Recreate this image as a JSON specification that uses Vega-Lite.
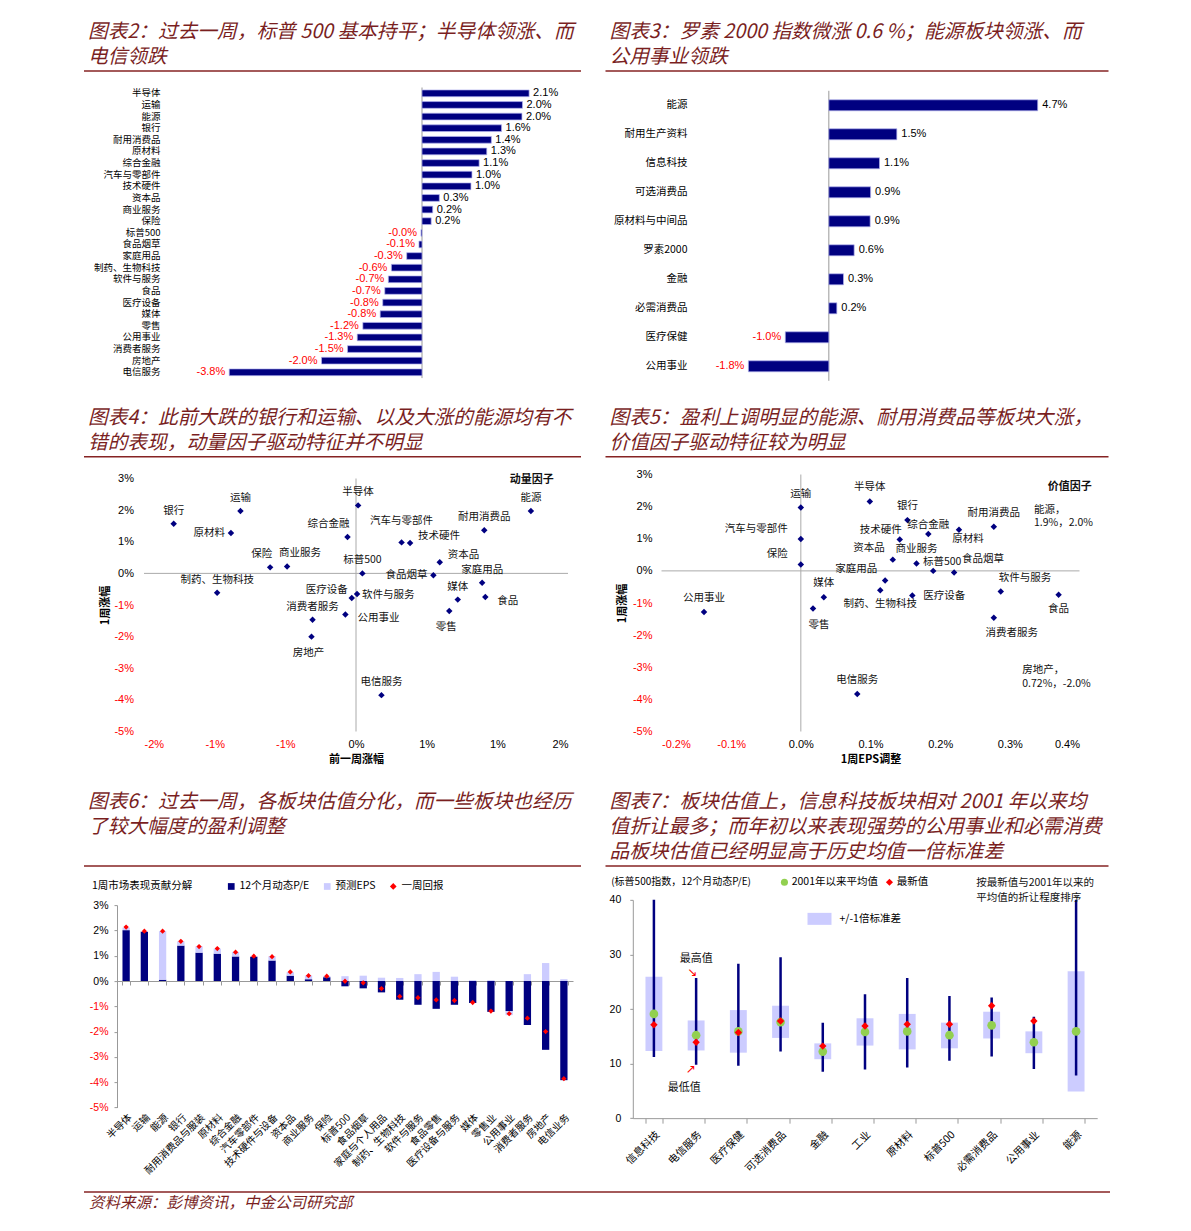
{
"$schema": "https://vega.github.io/schema/vega-lite/v6.json",
"background": "white",
"padding": {"left": 83, "top": 21, "right": 4, "bottom": 4},
"config": {
  "view": {"stroke": null},
  "font": "Noto Sans CJK SC",
  "axis": {"grid": false, "labelOverlap": false, "labelFont": "Liberation Sans", "labelFontSize": 10.5, "labelColor": "#000", "domainColor": "#999", "tickColor": "#999", "titleFont": "Noto Sans CJK SC", "titleColor": "#000"},
  "legend": {"padding": 0, "labelFont": "Noto Sans CJK SC", "labelFontSize": 10.5, "labelColor": "#000", "titleFont": "Noto Sans CJK SC", "titleFontWeight": "normal", "titleColor": "#000", "titleFontSize": 10.5},
  "text": {"font": "Noto Sans CJK SC", "fontSize": 10.5, "color": "#111"},
  "title": {"anchor": "start", "frame": "group", "fontSize": 19.7, "fontStyle": "italic", "fontWeight": "normal", "color": "#7a1f1f", "lineHeight": 25, "offset": 3.5, "dx": 4, "font": "Noto Sans CJK SC"}
},
"datasets": {
  "p2": [
    {"n":"半导体","v":0.021},{"n":"运输","v":0.0197},{"n":"能源","v":0.0196},{"n":"银行","v":0.0156},
    {"n":"耐用消费品","v":0.0136},{"n":"原材料","v":0.0127},{"n":"综合金融","v":0.0112},{"n":"汽车与零部件","v":0.0098},
    {"n":"技术硬件","v":0.0096},{"n":"资本品","v":0.0034},{"n":"商业服务","v":0.0021},{"n":"保险","v":0.0018},
    {"n":"标普500","v":-0.0002},{"n":"食品烟草","v":-0.0006},{"n":"家庭用品","v":-0.003},{"n":"制药、生物科技","v":-0.006},
    {"n":"软件与服务","v":-0.0066},{"n":"食品","v":-0.0073},{"n":"医疗设备","v":-0.0077},{"n":"媒体","v":-0.0082},
    {"n":"零售","v":-0.0116},{"n":"公用事业","v":-0.0127},{"n":"消费者服务","v":-0.0146},{"n":"房地产","v":-0.0197},{"n":"电信服务","v":-0.0378}
  ],
  "p3": [
    {"n":"能源","v":0.047},{"n":"耐用生产资料","v":0.0153},{"n":"信息科技","v":0.0114},{"n":"可选消费品","v":0.0094},
    {"n":"原材料与中间品","v":0.0093},{"n":"罗素2000","v":0.0057},{"n":"金融","v":0.0033},{"n":"必需消费品","v":0.0018},
    {"n":"医疗保健","v":-0.0098},{"n":"公用事业","v":-0.0181}
  ],
  "p4": [
    {"n":"银行","x":-0.0172,"y":0.0157},{"n":"运输","x":-0.0109,"y":0.0197},{"n":"原材料","x":-0.0118,"y":0.0128},
    {"n":"保险","x":-0.0081,"y":0.0019},{"n":"商业服务","x":-0.0065,"y":0.0022},{"n":"制药、生物科技","x":-0.0131,"y":-0.0061},
    {"n":"半导体","x":0.0002,"y":0.0215},{"n":"综合金融","x":-0.0008,"y":0.0115},{"n":"标普500","x":0.0006,"y":0.0},
    {"n":"医疗设备","x":-0.0004,"y":-0.0078},{"n":"软件与服务","x":0.0001,"y":-0.0065},{"n":"消费者服务","x":-0.0041,"y":-0.0147},
    {"n":"公用事业","x":-0.001,"y":-0.013},{"n":"房地产","x":-0.0042,"y":-0.02},{"n":"电信服务","x":0.0024,"y":-0.0385},
    {"n":"汽车与零部件","x":0.0043,"y":0.0098},{"n":"技术硬件","x":0.0051,"y":0.0096},{"n":"资本品","x":0.0079,"y":0.0035},
    {"n":"食品烟草","x":0.0073,"y":-0.0006},{"n":"家庭用品","x":0.0119,"y":-0.003},{"n":"媒体","x":0.0096,"y":-0.0083},
    {"n":"食品","x":0.0122,"y":-0.0075},{"n":"零售","x":0.0088,"y":-0.0119},{"n":"耐用消费品","x":0.0121,"y":0.0136},
    {"n":"能源","x":0.0165,"y":0.0197}
  ],
  "p5": [
    {"n":"运输","x":0.0,"y":0.0197},{"n":"汽车与零部件","x":0.0,"y":0.0099},{"n":"保险","x":0.0,"y":0.002},
    {"n":"公用事业","x":-0.00139,"y":-0.0128},{"n":"媒体","x":0.00033,"y":-0.0082},{"n":"零售","x":0.000175,"y":-0.0117},
    {"n":"电信服务","x":0.00081,"y":-0.0383},{"n":"半导体","x":0.00099,"y":0.0216},{"n":"银行","x":0.00153,"y":0.0158},
    {"n":"综合金融","x":0.00183,"y":0.0115},{"n":"技术硬件","x":0.00142,"y":0.0098},{"n":"原材料","x":0.00227,"y":0.0128},
    {"n":"耐用消费品","x":0.00277,"y":0.0137},{"n":"资本品","x":0.00132,"y":0.0035},{"n":"商业服务","x":0.00166,"y":0.0023},
    {"n":"标普500","x":0.0019,"y":0.0},{"n":"食品烟草","x":0.0022,"y":-0.0005},{"n":"家庭用品","x":0.00121,"y":-0.003},
    {"n":"制药、生物科技","x":0.00114,"y":-0.006},{"n":"医疗设备","x":0.0016,"y":-0.0077},{"n":"软件与服务","x":0.00287,"y":-0.0064},
    {"n":"食品","x":0.0037,"y":-0.0074},{"n":"消费者服务","x":0.00277,"y":-0.0146},{"n":"能源","x":0.019,"y":0.02},{"n":"房地产","x":0.0072,"y":-0.02}
  ],
  "p6": [
    {"c":"半导体","pe":0.0201,"eps":0.001,"ret":0.0213},{"c":"运输","pe":0.0195,"eps":0.0003,"ret":0.0197},
    {"c":"能源","pe":0.0005,"eps":0.0192,"ret":0.0197},{"c":"银行","pe":0.014,"eps":0.0017,"ret":0.0157},
    {"c":"耐用消费品与服装","pe":0.0112,"eps":0.0025,"ret":0.0136},{"c":"原材料","pe":0.0108,"eps":0.002,"ret":0.0128},
    {"c":"综合金融","pe":0.0097,"eps":0.0018,"ret":0.0114},{"c":"汽车零部件","pe":0.0096,"eps":0.0002,"ret":0.0098},
    {"c":"技术硬件与设备","pe":0.0081,"eps":0.0017,"ret":0.0096},{"c":"资本品","pe":0.0021,"eps":0.0014,"ret":0.0036},
    {"c":"商业服务","pe":0.0007,"eps":0.0015,"ret":0.0021},{"c":"保险","pe":0.0015,"eps":0.0005,"ret":0.0019},
    {"c":"标普500","pe":-0.0021,"eps":0.0019,"ret":-0.0001},{"c":"食品烟草","pe":-0.0029,"eps":0.0021,"ret":-0.0007},
    {"c":"家庭与个人用品","pe":-0.0045,"eps":0.0013,"ret":-0.003},{"c":"制药、生物科技","pe":-0.0074,"eps":0.0012,"ret":-0.0061},
    {"c":"软件与服务","pe":-0.0094,"eps":0.0027,"ret":-0.0066},{"c":"食品零售","pe":-0.011,"eps":0.0036,"ret":-0.0075},
    {"c":"医疗设备与服务","pe":-0.0094,"eps":0.0017,"ret":-0.0077},{"c":"媒体","pe":-0.0087,"eps":0.0003,"ret":-0.0085},
    {"c":"零售业","pe":-0.0122,"eps":0.0003,"ret":-0.0119},{"c":"公用事业","pe":-0.0119,"eps":-0.0016,"ret":-0.0129},
    {"c":"消费者服务","pe":-0.0174,"eps":0.0027,"ret":-0.0147},{"c":"房地产","pe":-0.0272,"eps":0.0071,"ret":-0.02},
    {"c":"电信业务","pe":-0.0392,"eps":0.0007,"ret":-0.0386}
  ],
  "p7": [
    {"s":"信息科技","lo":12.3,"hi":25.9,"mn":11.2,"mx":45,"avg":19.1,"now":17.1},
    {"s":"电信服务","lo":12.4,"hi":17.9,"mn":9.8,"mx":25.7,"avg":15.2,"now":13.9},
    {"s":"医疗保健","lo":12.0,"hi":19.8,"mn":9.6,"mx":28.3,"avg":15.9,"now":15.7},
    {"s":"可选消费品","lo":14.7,"hi":20.6,"mn":12.2,"mx":29.5,"avg":17.6,"now":17.8},
    {"s":"金融","lo":10.8,"hi":13.7,"mn":8.5,"mx":17.5,"avg":12.2,"now":13.2},
    {"s":"工业","lo":13.3,"hi":18.3,"mn":8.9,"mx":22.7,"avg":15.8,"now":16.9},
    {"s":"原材料","lo":12.6,"hi":19.1,"mn":9.3,"mx":25.7,"avg":15.9,"now":17.2},
    {"s":"标普500","lo":12.8,"hi":17.5,"mn":10.5,"mx":22.4,"avg":15.2,"now":17.2},
    {"s":"必需消费品","lo":14.6,"hi":19.5,"mn":11.3,"mx":22.1,"avg":17.0,"now":20.6},
    {"s":"公用事业","lo":11.9,"hi":15.9,"mn":9.0,"mx":18.6,"avg":13.9,"now":17.8},
    {"s":"能源","lo":4.9,"hi":26.9,"mn":7.8,"mx":45,"avg":15.9,"now":null}
  ]
},
"spacing": 24.8,
"resolve": {"scale": {"color": "independent", "fill": "independent", "shape": "independent"}},
"vconcat": [
 {"hconcat": [
   {"spacing": 14.5, "vconcat": [
     {"width": 497, "height": 1, "data": {"values": [{}]},
      "mark": {"type": "rule", "color": "#862323", "strokeWidth": 1.5},
      "encoding": {"y": {"datum": 0, "type": "quantitative", "scale": {"domain": [0, 1]}, "axis": null}},
      "title": {"text": ["图表2：过去一周，标普 500 基本持平；半导体领涨、而", "电信领跌"]}},
     {"width": 497, "height": 290.6, "data": {"name": "p2"},
      "layer": [
        {"data": {"values": [{}]}, "mark": {"type": "rule", "color": "#999"},
         "encoding": {"x": {"datum": 0, "type": "quantitative", "scale": {"domain": [-0.05, 0.03], "range": [83, 491]}, "axis": null}}},
        {"mark": {"type": "bar", "color": "#000080", "stroke": "#b3b3ee", "strokeWidth": 0.7},
         "encoding": {
           "y": {"field": "n", "type": "nominal", "sort": null, "scale": {"paddingInner": 0.42, "paddingOuter": 0.21},
                 "axis": {"title": null, "domain": false, "ticks": false, "offset": -83, "labelPadding": 7, "labelFont": "Noto Sans CJK SC", "labelFontSize": 9.5, "labelOverlap": false}},
           "x": {"field": "v", "type": "quantitative", "scale": {"domain": [-0.05, 0.03], "range": [83, 491]}, "axis": null}}},
        {"transform": [{"filter": "datum.v >= 0"}],
         "mark": {"type": "text", "align": "left", "dx": 4, "font": "Liberation Sans", "fontSize": 11, "color": "#000"},
         "encoding": {"y": {"field": "n", "type": "nominal", "sort": null},
                      "x": {"field": "v", "type": "quantitative", "scale": {"domain": [-0.05, 0.03], "range": [83, 491]}, "axis": null},
                      "text": {"field": "v", "format": ".1%"}}},
        {"transform": [{"filter": "datum.v < 0"}, {"calculate": "'-' + format(abs(datum.v), '.1%')", "as": "lab"}],
         "mark": {"type": "text", "align": "right", "dx": -4, "font": "Liberation Sans", "fontSize": 11, "color": "#ff0000"},
         "encoding": {"y": {"field": "n", "type": "nominal", "sort": null},
                      "x": {"field": "v", "type": "quantitative", "scale": {"domain": [-0.05, 0.03], "range": [83, 491]}, "axis": null},
                      "text": {"field": "lab"}}}
      ]}
   ]},
   {"spacing": 17.8, "vconcat": [
     {"width": 503, "height": 1, "data": {"values": [{}]},
      "mark": {"type": "rule", "color": "#862323", "strokeWidth": 1.5},
      "encoding": {"y": {"datum": 0, "type": "quantitative", "scale": {"domain": [0, 1]}, "axis": null}},
      "title": {"text": ["图表3：罗素 2000 指数微涨 0.6 %；能源板块领涨、而", "公用事业领跌"]}},
     {"width": 503, "height": 290, "data": {"name": "p3"},
      "layer": [
        {"data": {"values": [{}]}, "mark": {"type": "rule", "color": "#999"},
         "encoding": {"x": {"datum": 0, "type": "quantitative", "scale": {"domain": [-0.03, 0.06], "range": [90, 490]}, "axis": null}}},
        {"mark": {"type": "bar", "color": "#000080", "stroke": "#b3b3ee", "strokeWidth": 0.7},
         "encoding": {
           "y": {"field": "n", "type": "nominal", "sort": null, "scale": {"paddingInner": 0.62, "paddingOuter": 0.31},
                 "axis": {"title": null, "domain": false, "ticks": false, "offset": -90, "labelPadding": 8.5, "labelFont": "Noto Sans CJK SC", "labelFontSize": 10.5, "labelOverlap": false}},
           "x": {"field": "v", "type": "quantitative", "scale": {"domain": [-0.03, 0.06], "range": [90, 490]}, "axis": null}}},
        {"transform": [{"filter": "datum.v >= 0"}],
         "mark": {"type": "text", "align": "left", "dx": 4.5, "font": "Liberation Sans", "fontSize": 11, "color": "#000"},
         "encoding": {"y": {"field": "n", "type": "nominal", "sort": null},
                      "x": {"field": "v", "type": "quantitative", "scale": {"domain": [-0.03, 0.06], "range": [90, 490]}, "axis": null},
                      "text": {"field": "v", "format": ".1%"}}},
        {"transform": [{"filter": "datum.v < 0"}, {"calculate": "'-' + format(abs(datum.v), '.1%')", "as": "lab"}],
         "mark": {"type": "text", "align": "right", "dx": -4, "font": "Liberation Sans", "fontSize": 11, "color": "#ff0000"},
         "encoding": {"y": {"field": "n", "type": "nominal", "sort": null},
                      "x": {"field": "v", "type": "quantitative", "scale": {"domain": [-0.03, 0.06], "range": [90, 490]}, "axis": null},
                      "text": {"field": "lab"}}}
      ]}
   ]}
 ], "spacing": 22.5},
 {"spacing": 26.3, "resolve": {"scale": {"color": "independent", "fill": "independent", "shape": "independent"}}, "vconcat": [
  {"hconcat": [
   {"spacing": 14.7, "vconcat": [
     {"width": 497, "height": 1, "data": {"values": [{}]},
      "mark": {"type": "rule", "color": "#862323", "strokeWidth": 1.5},
      "encoding": {"y": {"datum": 0, "type": "quantitative", "scale": {"domain": [0, 1]}, "axis": null}},
      "title": {"text": ["图表4：此前大跌的银行和运输、以及大涨的能源均有不", "错的表现，动量因子驱动特征并不明显"]}},
     {"width": 497, "height": 253,
      "layer": [
        {"data": {"values": [{}]}, "mark": {"type": "rule", "color": "#aaa"},
         "encoding": {"x": {"datum": 0, "type": "quantitative", "scale": {"domain": [-0.02, 0.02], "range": [60, 484]}}}},
        {"data": {"values": [{}]}, "mark": {"type": "rule", "color": "#aaa"},
         "encoding": {"y": {"datum": 0, "type": "quantitative", "scale": {"domain": [-0.05, 0.03]}},
                      "x": {"datum": -0.02, "type": "quantitative", "scale": {"domain": [-0.02, 0.02], "range": [60, 484]}},
                      "x2": {"datum": 0.02}}},
        {"data": {"name": "p4"},
         "encoding": {
           "x": {"field": "x", "type": "quantitative", "scale": {"domain": [-0.02, 0.02], "range": [60, 484]},
                 "axis": {"title": "前一周涨幅", "values": [-0.02, -0.013333, -0.006667, 0, 0.006667, 0.013333, 0.02], "tickCount": 30, "format": ".0%", "labelExpr": "replace(datum.label, '−', '-')", "labelOverlap": false, "domain": false, "ticks": false, "labelPadding": 7, "labelFontSize": 11, "titleFontSize": 11, "titleFontWeight": "bold", "titlePadding": 4,
                          "labelColor": {"condition": {"test": "datum.value < 0", "value": "#ff0000"}, "value": "#000"}}},
           "y": {"field": "y", "type": "quantitative", "scale": {"domain": [-0.05, 0.03]},
                 "axis": {"title": "1周涨幅", "values": [-0.05, -0.04, -0.03, -0.02, -0.01, 0, 0.01, 0.02, 0.03], "tickCount": 30, "format": ".0%", "labelExpr": "replace(datum.label, '−', '-')", "labelOverlap": false, "domain": false, "ticks": false, "offset": -60, "labelPadding": 10.5, "labelFontSize": 11, "titleFontSize": 11, "titleFontWeight": "bold", "titlePadding": 3,
                          "labelColor": {"condition": {"test": "datum.value < 0", "value": "#ff0000"}, "value": "#000"}}}},
         "layer": [
           {"mark": {"type": "point", "shape": "diamond", "filled": true, "color": "#000080", "size": 42, "opacity": 1}},
           {"transform": [{"filter": "indexof(['银行','运输','制药、生物科技','半导体','标普500','消费者服务','电信服务','家庭用品','耐用消费品','能源','媒体'], datum.n) >= 0"}], "mark": {"type": "text", "dy": -13}, "encoding": {"text": {"field": "n"}}},
           {"transform": [{"filter": "indexof(['汽车与零部件'], datum.n) >= 0"}], "mark": {"type": "text", "dy": -21}, "encoding": {"text": {"field": "n"}}},
           {"transform": [{"filter": "indexof(['保险','综合金融'], datum.n) >= 0"}], "mark": {"type": "text", "align": "right", "dx": 2, "dy": -13}, "encoding": {"text": {"field": "n"}}},
           {"transform": [{"filter": "indexof(['商业服务'], datum.n) >= 0"}], "mark": {"type": "text", "align": "left", "dx": -8, "dy": -13}, "encoding": {"text": {"field": "n"}}},
           {"transform": [{"filter": "indexof(['原材料','食品烟草'], datum.n) >= 0"}], "mark": {"type": "text", "align": "right", "dx": -6, "dy": 0}, "encoding": {"text": {"field": "n"}}},
           {"transform": [{"filter": "indexof(['医疗设备'], datum.n) >= 0"}], "mark": {"type": "text", "align": "right", "dx": -4, "dy": -8}, "encoding": {"text": {"field": "n"}}},
           {"transform": [{"filter": "indexof(['软件与服务'], datum.n) >= 0"}], "mark": {"type": "text", "align": "left", "dx": 5, "dy": 1}, "encoding": {"text": {"field": "n"}}},
           {"transform": [{"filter": "indexof(['技术硬件','资本品'], datum.n) >= 0"}], "mark": {"type": "text", "align": "left", "dx": 8, "dy": -7}, "encoding": {"text": {"field": "n"}}},
           {"transform": [{"filter": "indexof(['公用事业','食品'], datum.n) >= 0"}], "mark": {"type": "text", "align": "left", "dx": 12, "dy": 4}, "encoding": {"text": {"field": "n"}}},
           {"transform": [{"filter": "indexof(['房地产','零售'], datum.n) >= 0"}], "mark": {"type": "text", "dx": -3, "dy": 16}, "encoding": {"text": {"field": "n"}}}
         ]},
        {"data": {"values": [{}]}, "mark": {"type": "text", "text": "动量因子", "fontWeight": "bold", "fontSize": 11},
         "encoding": {"x": {"datum": 0.01657, "type": "quantitative", "scale": {"domain": [-0.02, 0.02], "range": [60, 484]}},
                      "y": {"datum": 0.0294, "type": "quantitative", "scale": {"domain": [-0.05, 0.03]}}}}
      ]}
   ]},
   {"spacing": 10.7, "vconcat": [
     {"width": 503, "height": 1, "data": {"values": [{}]},
      "mark": {"type": "rule", "color": "#862323", "strokeWidth": 1.5},
      "encoding": {"y": {"datum": 0, "type": "quantitative", "scale": {"domain": [0, 1]}, "axis": null}},
      "title": {"text": ["图表5：盈利上调明显的能源、耐用消费品等板块大涨，", "价值因子驱动特征较为明显"]}},
     {"width": 503, "height": 257,
      "layer": [
        {"data": {"values": [{}]}, "mark": {"type": "rule", "color": "#aaa"},
         "encoding": {"x": {"datum": 0, "type": "quantitative", "scale": {"domain": [-0.002, 0.004], "range": [56, 474]}}}},
        {"data": {"values": [{}]}, "mark": {"type": "rule", "color": "#aaa"},
         "encoding": {"y": {"datum": 0, "type": "quantitative", "scale": {"domain": [-0.05, 0.03]}},
                      "x": {"datum": -0.002, "type": "quantitative", "scale": {"domain": [-0.002, 0.004], "range": [56, 474]}},
                      "x2": {"datum": 0.004}}},
        {"data": {"name": "p5"},
         "encoding": {
           "x": {"field": "x", "type": "quantitative", "scale": {"domain": [-0.002, 0.004], "range": [56, 474]},
                 "axis": {"title": "1周EPS调整", "values": [-0.002, -0.001, 0, 0.001, 0.002, 0.003, 0.004], "tickCount": 30, "format": ".1%", "labelExpr": "replace(datum.label, '−', '-')", "labelOverlap": false, "domain": false, "ticks": false, "labelPadding": 7, "labelFontSize": 11, "titleFontSize": 11, "titleFontWeight": "bold", "titlePadding": 4,
                          "labelColor": {"condition": {"test": "datum.value < 0", "value": "#ff0000"}, "value": "#000"}}},
           "y": {"field": "y", "type": "quantitative", "scale": {"domain": [-0.05, 0.03]},
                 "axis": {"title": "1周涨幅", "values": [-0.05, -0.04, -0.03, -0.02, -0.01, 0, 0.01, 0.02, 0.03], "tickCount": 30, "format": ".0%", "labelExpr": "replace(datum.label, '−', '-')", "labelOverlap": false, "domain": false, "ticks": false, "offset": -56, "labelPadding": 9.5, "labelFontSize": 11, "titleFontSize": 11, "titleFontWeight": "bold", "titlePadding": 5,
                          "labelColor": {"condition": {"test": "datum.value < 0", "value": "#ff0000"}, "value": "#000"}}}},
         "layer": [
           {"mark": {"type": "point", "shape": "diamond", "filled": true, "color": "#000080", "size": 42, "opacity": 1, "clip": true}},
           {"transform": [{"filter": "indexof(['运输','公用事业','媒体','电信服务','半导体','银行','耐用消费品','商业服务'], datum.n) >= 0"}], "mark": {"type": "text", "dy": -14}, "encoding": {"text": {"field": "n"}}},
           {"transform": [{"filter": "indexof(['综合金融'], datum.n) >= 0"}], "mark": {"type": "text", "dy": -9}, "encoding": {"text": {"field": "n"}}},
           {"transform": [{"filter": "indexof(['标普500'], datum.n) >= 0"}], "mark": {"type": "text", "dx": 9, "dy": -9}, "encoding": {"text": {"field": "n"}}},
           {"transform": [{"filter": "indexof(['汽车与零部件','保险'], datum.n) >= 0"}], "mark": {"type": "text", "align": "right", "dx": -13, "dy": -10}, "encoding": {"text": {"field": "n"}}},
           {"transform": [{"filter": "indexof(['技术硬件'], datum.n) >= 0"}], "mark": {"type": "text", "align": "right", "dx": 2, "dy": -9}, "encoding": {"text": {"field": "n"}}},
           {"transform": [{"filter": "indexof(['资本品','家庭用品'], datum.n) >= 0"}], "mark": {"type": "text", "align": "right", "dx": -8, "dy": -12}, "encoding": {"text": {"field": "n"}}},
           {"transform": [{"filter": "indexof(['制药、生物科技','食品'], datum.n) >= 0"}], "mark": {"type": "text", "dy": 14}, "encoding": {"text": {"field": "n"}}},
           {"transform": [{"filter": "indexof(['零售'], datum.n) >= 0"}], "mark": {"type": "text", "dx": 6, "dy": 17}, "encoding": {"text": {"field": "n"}}},
           {"transform": [{"filter": "indexof(['消费者服务'], datum.n) >= 0"}], "mark": {"type": "text", "dx": 18, "dy": 15}, "encoding": {"text": {"field": "n"}}},
           {"transform": [{"filter": "indexof(['原材料'], datum.n) >= 0"}], "mark": {"type": "text", "dx": 9, "dy": 9}, "encoding": {"text": {"field": "n"}}},
           {"transform": [{"filter": "indexof(['食品烟草'], datum.n) >= 0"}], "mark": {"type": "text", "align": "left", "dx": 8, "dy": -13}, "encoding": {"text": {"field": "n"}}},
           {"transform": [{"filter": "indexof(['软件与服务'], datum.n) >= 0"}], "mark": {"type": "text", "align": "left", "dx": -2, "dy": -13}, "encoding": {"text": {"field": "n"}}},
           {"transform": [{"filter": "indexof(['医疗设备'], datum.n) >= 0"}], "mark": {"type": "text", "align": "left", "dx": 11, "dy": 0}, "encoding": {"text": {"field": "n"}}}
         ]},
        {"data": {"values": [{}]}, "mark": {"type": "text", "text": "价值因子", "fontWeight": "bold", "fontSize": 11},
         "encoding": {"x": {"datum": 0.00386, "type": "quantitative", "scale": {"domain": [-0.002, 0.004], "range": [56, 474]}},
                      "y": {"datum": 0.026, "type": "quantitative", "scale": {"domain": [-0.05, 0.03]}}}},
        {"data": {"values": [{}]}, "mark": {"type": "text", "text": ["能源，", "1.9%，2.0%"], "align": "left", "baseline": "top", "lineHeight": 13.6},
         "encoding": {"x": {"datum": 0.003347, "type": "quantitative", "scale": {"domain": [-0.002, 0.004], "range": [56, 474]}},
                      "y": {"datum": 0.0206, "type": "quantitative", "scale": {"domain": [-0.05, 0.03]}}}},
        {"data": {"values": [{}]}, "mark": {"type": "text", "text": ["房地产，", "0.72%，-2.0%"], "align": "left", "baseline": "top", "lineHeight": 13.6},
         "encoding": {"x": {"datum": 0.003178, "type": "quantitative", "scale": {"domain": [-0.002, 0.004], "range": [56, 474]}},
                      "y": {"datum": -0.0293, "type": "quantitative", "scale": {"domain": [-0.05, 0.03]}}}}
      ]}
   ]}
  ], "spacing": 22.5},
  {"spacing": 15, "resolve": {"scale": {"color": "independent", "fill": "independent", "shape": "independent"}}, "vconcat": [
   {"hconcat": [
    {"spacing": 14, "resolve": {"scale": {"color": "independent", "fill": "independent", "shape": "independent"}}, "vconcat": [
      {"width": 497, "height": 1, "data": {"values": [{}]},
       "mark": {"type": "rule", "color": "#862323", "strokeWidth": 1.5},
       "encoding": {"y": {"datum": 0, "type": "quantitative", "scale": {"domain": [0, 1]}, "axis": null}},
       "title": {"text": ["图表6：过去一周，各板块估值分化，而一些板块也经历", "了较大幅度的盈利调整", " "]}},
      {"width": 497, "height": 202.4, "data": {"name": "p6"},
       "layer": [
         {"transform": [{"fold": ["pe", "eps"], "as": ["k", "v"]}],
          "mark": {"type": "bar"},
          "encoding": {
            "x": {"field": "c", "type": "nominal", "sort": null, "scale": {"range": [33, 489], "paddingInner": 0.6, "paddingOuter": 0.3},
                  "axis": {"title": null, "labelAngle": -45, "labelFont": "Noto Sans CJK SC", "labelFontSize": 10, "labelOverlap": false, "offset": -126.5, "labelPadding": 127, "tickBand": "extent", "tickSize": 4}},
            "y": {"field": "v", "type": "quantitative", "stack": "zero", "scale": {"domain": [-0.05, 0.03]},
                  "axis": {"title": null, "values": [-0.05, -0.04, -0.03, -0.02, -0.01, 0, 0.01, 0.02, 0.03], "tickCount": 30, "format": ".0%", "labelExpr": "replace(datum.label, '−', '-')", "labelOverlap": false, "offset": -33, "tickSize": 3, "labelPadding": 6, "labelFontSize": 10.5,
                           "labelColor": {"condition": {"test": "datum.value < 0", "value": "#ff0000"}, "value": "#000"}}},
            "color": {"field": "k", "type": "nominal", "scale": {"domain": ["pe", "eps", "ret"], "range": ["#000080", "#ccccff", "#ff0000"]},
                      "legend": {"orient": "none", "legendX": 8, "legendY": -24, "direction": "horizontal", "title": "1周市场表现贡献分解", "titleOrient": "left", "titlePadding": 33, "titleFontSize": 10.5, "labelFontSize": 10.5, "symbolSize": 45, "symbolStrokeWidth": 0, "labelOffset": 3, "columnPadding": 12,
                                 "labelExpr": "datum.value == 'pe' ? '12个月动态P/E' : datum.value == 'eps' ? '预测EPS' : '一周回报'"}},
            "order": {"field": "k", "sort": "descending"}}},
         {"mark": {"type": "point", "filled": true, "size": 28, "opacity": 1},
          "encoding": {
            "x": {"field": "c", "type": "nominal", "sort": null, "scale": {"range": [33, 489], "paddingInner": 0.6, "paddingOuter": 0.3}},
            "y": {"field": "ret", "type": "quantitative", "scale": {"domain": [-0.05, 0.03]}},
            "color": {"datum": "ret", "type": "nominal", "scale": {"domain": ["pe", "eps", "ret"], "range": ["#000080", "#ccccff", "#ff0000"]}},
            "shape": {"datum": "ret", "type": "nominal", "scale": {"domain": ["pe", "eps", "ret"], "range": ["square", "square", "diamond"]}}}}
       ]}
    ]},
    {"spacing": 9.75, "resolve": {"scale": {"color": "independent", "fill": "independent", "shape": "independent"}}, "vconcat": [
      {"width": 503, "height": 1, "data": {"values": [{}]},
       "mark": {"type": "rule", "color": "#862323", "strokeWidth": 1.5},
       "encoding": {"y": {"datum": 0, "type": "quantitative", "scale": {"domain": [0, 1]}, "axis": null}},
       "title": {"text": ["图表7：板块估值上，信息科技板块相对 2001 年以来均", "值折让最多；而年初以来表现强势的公用事业和必需消费", "品板块估值已经明显高于历史均值一倍标准差"]}},
      {"width": 503, "height": 218.3, "data": {"name": "p7"},
       "layer": [
         {"mark": {"type": "bar"},
          "encoding": {
            "x": {"field": "s", "type": "nominal", "sort": null, "scale": {"range": [27.3, 491.7], "paddingInner": 0.6, "paddingOuter": 0.3},
                  "axis": {"title": null, "labelAngle": -45, "labelFont": "Noto Sans CJK SC", "labelFontSize": 10.5, "labelOverlap": false, "tickBand": "extent", "tickSize": 5, "labelPadding": 6}},
            "y": {"field": "lo", "type": "quantitative", "scale": {"domain": [0, 40]},
                  "axis": {"title": null, "values": [0, 10, 20, 30, 40], "tickCount": 30, "labelOverlap": false, "offset": -27.3, "tickSize": 3, "labelPadding": 9, "labelFontSize": 10.5}},
            "y2": {"field": "hi"},
            "fill": {"datum": "+/-1倍标准差", "type": "nominal", "scale": {"range": ["#ccccff"]},
                     "legend": {"orient": "none", "legendX": 202, "legendY": 7, "title": null, "symbolType": "M-1,-0.5H1V0.5H-1Z", "symbolSize": 576, "symbolStrokeWidth": 0, "labelOffset": 8, "labelFontSize": 10.5}}}},
         {"mark": {"type": "rule", "color": "#000080", "strokeWidth": 2.5, "clip": true},
          "encoding": {
            "x": {"field": "s", "type": "nominal", "sort": null},
            "y": {"field": "mn", "type": "quantitative", "scale": {"domain": [0, 40]}},
            "y2": {"field": "mx"}}},
         {"mark": {"type": "point", "filled": true, "size": 75, "opacity": 1},
          "encoding": {
            "x": {"field": "s", "type": "nominal", "sort": null},
            "y": {"field": "avg", "type": "quantitative", "scale": {"domain": [0, 40]}},
            "shape": {"datum": "2001年以来平均值", "type": "nominal", "scale": {"domain": ["2001年以来平均值", "最新值"], "range": ["circle", "diamond"]}},
            "color": {"datum": "2001年以来平均值", "type": "nominal", "scale": {"domain": ["2001年以来平均值", "最新值"], "range": ["#92d050", "#ff0000"]},
                      "legend": {"orient": "none", "legendX": 5.7, "legendY": -23, "direction": "horizontal", "title": "(标普500指数，12个月动态P/E)", "titleOrient": "left", "titlePadding": 28, "titleFontSize": 10, "labelFontSize": 10.5, "symbolSize": 50, "symbolStrokeWidth": 0, "labelOffset": 2, "columnPadding": 6}}}},
         {"mark": {"type": "point", "filled": true, "size": 55, "opacity": 1},
          "encoding": {
            "x": {"field": "s", "type": "nominal", "sort": null},
            "y": {"field": "now", "type": "quantitative", "scale": {"domain": [0, 40]}},
            "shape": {"datum": "最新值", "type": "nominal", "scale": {"domain": ["2001年以来平均值", "最新值"], "range": ["circle", "diamond"]}},
            "color": {"datum": "最新值", "type": "nominal", "scale": {"domain": ["2001年以来平均值", "最新值"], "range": ["#92d050", "#ff0000"]}}}},
         {"data": {"values": [{}]}, "mark": {"type": "text", "text": ["按最新值与2001年以来的", "平均值的折让程度排序"], "align": "left", "baseline": "top", "dx": -15.5, "lineHeight": 14.5},
          "encoding": {"x": {"datum": "必需消费品", "type": "nominal"}, "y": {"datum": 44.0, "type": "quantitative", "scale": {"domain": [0, 40]}}}},
         {"data": {"values": [{}]}, "mark": {"type": "text", "text": "最高值", "fontSize": 11},
          "encoding": {"x": {"datum": "电信服务", "type": "nominal"}, "y": {"datum": 29.1, "type": "quantitative", "scale": {"domain": [0, 40]}}}},
         {"data": {"values": [{}]}, "mark": {"type": "text", "text": "↘", "font": "DejaVu Sans", "fontSize": 12, "color": "#ff0000", "dx": -3.5},
          "encoding": {"x": {"datum": "电信服务", "type": "nominal"}, "y": {"datum": 26.8, "type": "quantitative", "scale": {"domain": [0, 40]}}}},
         {"data": {"values": [{}]}, "mark": {"type": "text", "text": "最低值", "fontSize": 11, "dx": -12},
          "encoding": {"x": {"datum": "电信服务", "type": "nominal"}, "y": {"datum": 5.6, "type": "quantitative", "scale": {"domain": [0, 40]}}}},
         {"data": {"values": [{}]}, "mark": {"type": "text", "text": "↗", "font": "DejaVu Sans", "fontSize": 12, "color": "#ff0000", "dx": -5},
          "encoding": {"x": {"datum": "电信服务", "type": "nominal"}, "y": {"datum": 9.0, "type": "quantitative", "scale": {"domain": [0, 40]}}}}
       ]}
    ]}
   ], "spacing": 22.5, "resolve": {"scale": {"color": "independent", "fill": "independent", "shape": "independent"}}},
   {"width": 1026, "height": 1, "data": {"values": [{}]},
    "mark": {"type": "rule", "color": "#862323", "strokeWidth": 1.5},
    "encoding": {"y": {"datum": 1, "type": "quantitative", "scale": {"domain": [0, 1]}, "axis": null}},
    "title": {"text": "资料来源：彭博资讯，中金公司研究部", "orient": "bottom", "fontSize": 15.5, "offset": 3, "dx": 5}}
  ]}
 ]}
]
}
